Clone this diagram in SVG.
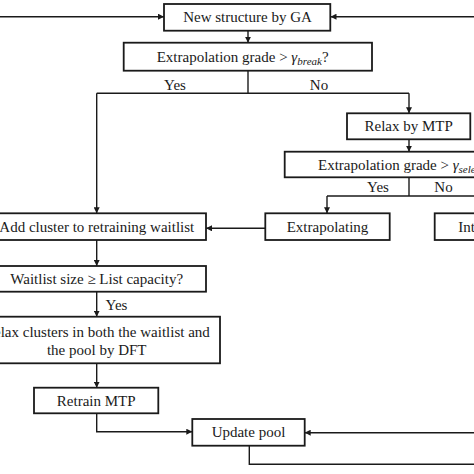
<svg xmlns="http://www.w3.org/2000/svg" width="474" height="474" viewBox="0 0 474 474">
<style>
.box{fill:#fff;stroke:#1a1a1a;stroke-width:1.8}
.t{font-size:15px;fill:#1a1a1a;text-anchor:middle}
.s{text-anchor:start}
.g{font-style:italic}
.sub{font-style:italic;font-size:11px}
.c{fill:none;stroke:#1a1a1a;stroke-width:1.4}
</style>
<defs>
<marker id="ah" viewBox="0 0 10 10" refX="10" refY="5" markerWidth="6" markerHeight="6" markerUnits="userSpaceOnUse" orient="auto">
<path d="M0,0 L10,5 L0,10 z" fill="#1a1a1a"/>
</marker>
</defs>
<rect width="474" height="474" fill="#fff"/>
<g id="connectors">
<path class="c" d="M0,16.7 H164" marker-end="url(#ah)"/>
<path class="c" d="M474,16.7 H330.5" marker-end="url(#ah)"/>
<path class="c" d="M248,30.7 V42.7" marker-end="url(#ah)"/>
<path class="c" d="M248,70.7 V93.3"/>
<path class="c" d="M96.7,93.3 H409"/>
<path class="c" d="M96.7,93.3 V213.3" marker-end="url(#ah)"/>
<path class="c" d="M409,93.3 V113.3" marker-end="url(#ah)"/>
<path class="c" d="M409,139.3 V151.7" marker-end="url(#ah)"/>
<path class="c" d="M409,177.3 V196"/>
<path class="c" d="M327,196 H497"/>
<path class="c" d="M327,196 V213.3" marker-end="url(#ah)"/>
<path class="c" d="M497,196 V213.3" marker-end="url(#ah)"/>
<path class="c" d="M265.3,228.3 H206" marker-end="url(#ah)"/>
<path class="c" d="M96.7,240 V266" marker-end="url(#ah)"/>
<path class="c" d="M96.7,291.7 V316.7" marker-end="url(#ah)"/>
<path class="c" d="M96.7,363.3 V387.7" marker-end="url(#ah)"/>
<path class="c" d="M96.7,413.3 V431.7 H192.3" marker-end="url(#ah)"/>
<path class="c" d="M474,432.7 H304.7" marker-end="url(#ah)"/>
<path class="c" d="M249.3,445.7 V464.3 H474"/>
<text class="t" font-family="Liberation Serif" x="175" y="90">Yes</text>
<text class="t" font-family="Liberation Serif" x="319" y="90">No</text>
<text class="t" font-family="Liberation Serif" x="378" y="192">Yes</text>
<text class="t" font-family="Liberation Serif" x="443.5" y="192">No</text>
<text class="t" font-family="Liberation Serif" x="116.5" y="310">Yes</text>
</g>
<g id="new-structure">
<rect class="box" x="164" y="4" width="166.3" height="26.7"/>
<text class="t" font-family="Liberation Serif" x="247.5" y="22.3">New structure by GA</text>
</g>
<g id="check-break">
<rect class="box" x="123.7" y="42.7" width="248.3" height="28"/>
<text class="t s" font-family="Liberation Serif" x="156.7" y="61.7">Extrapolation grade &gt; <tspan class="g">γ</tspan><tspan class="sub" dy="3">break</tspan><tspan dy="-3">?</tspan></text>
</g>
<g id="relax-mtp">
<rect class="box" x="347" y="113.3" width="123.3" height="26"/>
<text class="t" font-family="Liberation Serif" x="408.7" y="131.3">Relax by MTP</text>
</g>
<g id="check-select">
<rect class="box" x="284.7" y="151.7" width="248.3" height="25.6"/>
<text class="t s" font-family="Liberation Serif" x="318" y="169.5">Extrapolation grade &gt; <tspan class="g">γ</tspan><tspan class="sub" dy="3">select</tspan><tspan dy="-3">?</tspan></text>
</g>
<g id="extrapolating">
<rect class="box" x="265.3" y="213.3" width="124.4" height="26.7"/>
<text class="t" font-family="Liberation Serif" x="327.5" y="231.7">Extrapolating</text>
</g>
<g id="interpolating">
<rect class="box" x="434.7" y="213.3" width="124.4" height="26.7"/>
<text class="t" font-family="Liberation Serif" x="496.9" y="231.7">Interpolating</text>
</g>
<g id="add-cluster">
<rect class="box" x="-12.6" y="213.3" width="218.6" height="26.7"/>
<text class="t" font-family="Liberation Serif" x="96.8" y="231.7">Add cluster to retraining waitlist</text>
</g>
<g id="waitlist-check">
<rect class="box" x="-12.6" y="266" width="218.6" height="25.7"/>
<text class="t" font-family="Liberation Serif" x="96.7" y="283.9">Waitlist size ≥ List capacity?</text>
</g>
<g id="relax-dft">
<rect class="box" x="-26.6" y="316.7" width="246.6" height="46.6"/>
<text class="t" font-family="Liberation Serif" x="96.9" y="336.7">Relax clusters in both the waitlist and</text>
<text class="t" font-family="Liberation Serif" x="96.7" y="355.3">the pool by DFT</text>
</g>
<g id="retrain">
<rect class="box" x="34" y="387.7" width="124.3" height="25.6"/>
<text class="t" font-family="Liberation Serif" x="96.2" y="405.5">Retrain MTP</text>
</g>
<g id="update-pool">
<rect class="box" x="192.3" y="419" width="112.4" height="26.7"/>
<text class="t" font-family="Liberation Serif" x="248.5" y="437.4">Update pool</text>
</g>
</svg>
